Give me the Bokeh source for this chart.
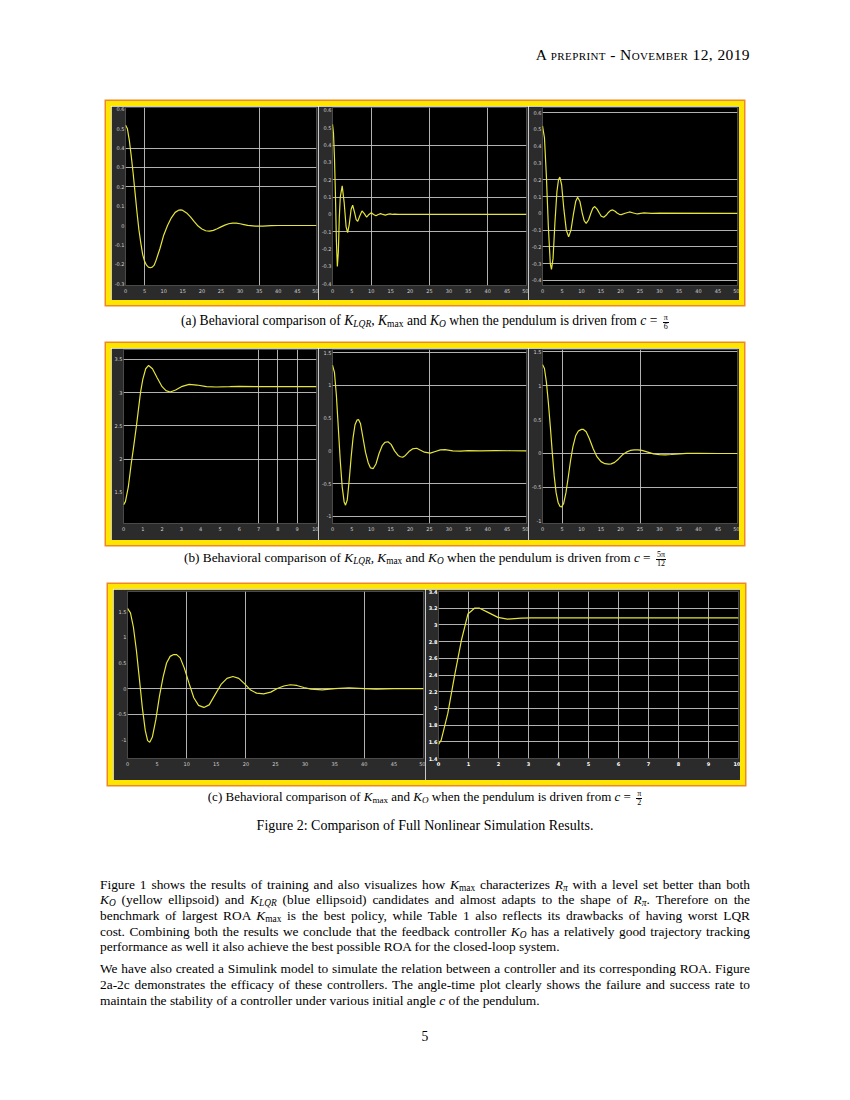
from bokeh.plotting import figure
from bokeh.layouts import row, column
from bokeh.models import Range1d, FixedTicker, Div, Spacer
from bokeh.embed import file_html
from bokeh.resources import INLINE

# ---------------- data ----------------
# (a) c = pi/6
a1_t = [0, 0.5, 1, 1.5, 2, 2.5, 3, 3.5, 4, 4.5, 5, 5.5, 6, 6.5, 7, 7.5, 8, 8.5, 9, 9.5, 10, 11, 12, 13, 14, 14.5,
        15, 16, 17, 18, 19, 20, 21, 22, 23, 24, 25, 26, 27, 28, 29, 30, 31, 32, 34, 36, 38, 40, 45, 50]
a1_y = [0.52, 0.50, 0.44, 0.36, 0.27, 0.17, 0.07, -0.02, -0.09, -0.15, -0.185, -0.205, -0.215, -0.218, -0.215,
        -0.205, -0.18, -0.15, -0.12, -0.085, -0.05, 0.00, 0.04, 0.068, 0.08, 0.081, 0.078, 0.065, 0.045, 0.02,
        -0.003, -0.018, -0.027, -0.029, -0.025, -0.017, -0.007, 0.002, 0.009, 0.012, 0.012, 0.009, 0.005, 0.001,
        -0.003, -0.003, -0.001, 0.0, 0.0, 0.0]
a2_t = [0, 0.25, 0.5, 0.75, 1.0, 1.25, 1.5, 1.75, 2.0, 2.5, 3.0, 3.5, 3.9, 4.3, 4.8, 5.2, 5.7, 6.1, 6.5, 7.0, 7.6,
        8.2, 8.8, 9.4, 10.0, 10.6, 11.2, 11.8, 12.4, 13.0, 13.6, 14.2, 14.8, 15.4, 16, 17, 50]
a2_y = [0.52, 0.47, 0.33, 0.12, -0.15, -0.30, -0.22, -0.02, 0.10, 0.165, 0.07, -0.07, -0.105, -0.06, 0.03, 0.053,
        0.01, -0.03, -0.04, -0.01, 0.02, 0.005, -0.016, 0.0, 0.01, 0.0, -0.008, 0.0, 0.005, 0.0, -0.004, 0.0,
        0.003, 0.0, 0.002, 0.0, 0.0]
a3_t = [0, 0.5, 1.0, 1.5, 2.0, 2.3, 2.7, 3.2, 3.7, 4.1, 4.45, 4.9, 5.5, 6.1, 6.7, 7.3, 7.9, 8.5, 9.0, 9.6, 10.2,
        10.7, 11.2, 11.8, 12.4, 12.9, 13.4, 14.0, 14.6, 15.1, 15.7, 16.3, 16.9, 17.4, 18.0, 18.6, 19.2, 19.7,
        20.2, 21.2, 22.3, 23.3, 24.3, 26, 28, 30, 50]
a3_y = [0.52, 0.45, 0.22, -0.08, -0.30, -0.334, -0.27, -0.05, 0.13, 0.20, 0.216, 0.17, 0.02, -0.10, -0.14, -0.10,
        -0.01, 0.07, 0.096, 0.07, 0.0, -0.045, -0.06, -0.04, 0.0, 0.03, 0.04, 0.025, 0.0, -0.018, -0.024, -0.012,
        0.005, 0.016, 0.02, 0.012, 0.0, -0.006, -0.008, 0.0, 0.008, 0.002, -0.004, 0.002, -0.001, 0.001, 0.0]

# (b) c = 5pi/12
b1_t = [0, 0.1, 0.25, 0.4, 0.5, 0.67, 0.88, 1.0, 1.15, 1.3, 1.5, 1.75, 2.0, 2.2, 2.42, 2.7, 3.0, 3.4, 3.8, 4.3,
        4.8, 5.5, 6, 7, 10]
b1_y = [1.31, 1.36, 1.58, 1.93, 2.13, 2.5, 3.0, 3.2, 3.36, 3.41, 3.36, 3.22, 3.09, 3.03, 3.01, 3.04, 3.09, 3.125,
        3.115, 3.09, 3.085, 3.09, 3.095, 3.09, 3.09]
b2_t = [0, 0.5, 1.0, 1.5, 2.0, 2.5, 3.0, 3.36, 3.8, 4.3, 4.8, 5.3, 5.8, 6.3, 6.7, 7.2, 7.8, 8.5, 9.2, 9.8, 10.5,
        11.2, 12.0, 12.8, 13.5, 14.3, 15.1, 16.0, 16.9, 17.5, 18.1, 18.8, 19.7, 20.6, 21.7, 22.7, 23.7, 25.2,
        26.5, 27.8, 29, 31, 33, 35, 38, 42, 46, 50]
b2_y = [1.31, 1.2, 0.85, 0.35, -0.15, -0.55, -0.78, -0.83, -0.75, -0.45, -0.1, 0.2, 0.4, 0.47, 0.48, 0.42, 0.22,
        -0.02, -0.18, -0.26, -0.27, -0.2, -0.04, 0.08, 0.13, 0.14, 0.1, 0.0, -0.07, -0.09, -0.096, -0.07, -0.01,
        0.03, 0.04, 0.01, -0.02, -0.035, -0.01, 0.015, 0.02, 0.0, -0.005, 0.005, 0.0, 0.005, 0.002, 0.0]
b3_t = [0, 0.5, 1.0, 1.5, 2.0, 2.5, 3.0, 3.5, 4.0, 4.5, 4.9, 5.4, 6.0, 6.6, 7.2, 7.8, 8.5, 9.2, 10.0, 10.5, 11.2,
        12.0, 13.0, 14.0, 15.0, 16.0, 17.0, 17.6, 18.5, 19.5, 20.5, 21.5, 22.5, 23.5, 24.5, 25.5, 27, 28.5, 30,
        31.5, 33, 35, 37, 40, 45, 50]
b3_y = [1.31, 1.25, 1.05, 0.75, 0.4, 0.02, -0.33, -0.58, -0.72, -0.78, -0.785, -0.74, -0.58, -0.35, -0.1, 0.1,
        0.26, 0.33, 0.355, 0.354, 0.32, 0.22, 0.07, -0.05, -0.12, -0.15, -0.155, -0.153, -0.13, -0.08, -0.02,
        0.02, 0.045, 0.053, 0.053, 0.045, 0.02, -0.005, -0.018, -0.02, -0.015, -0.005, 0.002, 0.003, 0.0, 0.0]

# (c) c = pi/2
c1_t = [0, 0.5, 1.0, 1.5, 2.0, 2.5, 3.0, 3.4, 3.76, 4.2, 4.8, 5.4, 6.0, 6.6, 7.2, 7.8, 8.3, 8.9, 9.6, 10.4, 11.2,
        12.0, 12.9, 13.8, 14.8, 15.8, 16.8, 17.8, 18.8, 19.8, 20.8, 21.8, 23.0, 24.2, 25.3, 26.4, 27.5, 28.6,
        29.8, 31.0, 32.9, 35.0, 37.4, 40, 42, 45, 50]
c1_y = [1.57, 1.48, 1.2, 0.75, 0.2, -0.37, -0.82, -1.02, -1.05, -0.95, -0.6, -0.15, 0.22, 0.5, 0.63, 0.665,
        0.665, 0.6, 0.4, 0.1, -0.18, -0.33, -0.37, -0.32, -0.12, 0.08, 0.2, 0.235, 0.2, 0.09, -0.03, -0.09,
        -0.105, -0.07, 0.0, 0.05, 0.074, 0.06, 0.02, -0.01, -0.025, 0.0, 0.015, 0.0, -0.01, 0.0, 0.0]
c2_t = [0, 0.09, 0.31, 0.53, 0.76, 0.98, 1.2, 1.37, 1.65, 1.98, 2.3, 2.76, 3.1, 4, 6, 8, 10]
c2_y = [1.57, 1.62, 1.94, 2.38, 2.81, 3.13, 3.2, 3.2, 3.15, 3.09, 3.07, 3.08, 3.085, 3.085, 3.085, 3.085, 3.085]

# tick labels
ticks_50 = [0, 5, 10, 15, 20, 25, 30, 35, 40, 45, 50]
ticks_10 = [0, 1, 2, 3, 4, 5, 6, 7, 8, 9, 10]
a1_yticks = [-0.3, -0.2, -0.1, 0, 0.1, 0.2, 0.3, 0.4, 0.5, 0.6]
a_yticks = [-0.4, -0.3, -0.2, -0.1, 0, 0.1, 0.2, 0.3, 0.4, 0.5, 0.6]
b1_yticks = [1.5, 2, 2.5, 3, 3.5]
b_yticks = [-1, -0.5, 0, 0.5, 1, 1.5]
c2_yticks = [1.4, 1.6, 1.8, 2, 2.2, 2.4, 2.6, 2.8, 3, 3.2, 3.4]

CURVE = "#e4e43a"
FRAME = "#2b2b2b"
GRID = "#c4c4c4"


def panel(t, y, w, h, xr, yr, xt, yt, gx, gy, bl, bt, bb, br=2):
    p = figure(width=w, height=h, x_range=Range1d(*xr), y_range=Range1d(*yr),
               output_backend="svg", toolbar_location=None,
               min_border_left=bl, min_border_right=br, min_border_top=bt, min_border_bottom=bb,
               background_fill_color="#000000", border_fill_color=FRAME, outline_line_color=None)
    p.line(t, y, line_color=CURVE, line_width=1.2)
    p.xaxis.ticker = FixedTicker(ticks=xt)
    p.yaxis.ticker = FixedTicker(ticks=yt)
    p.xaxis.major_label_overrides = {float(v): f"{v:g}" for v in xt}
    p.yaxis.major_label_overrides = {float(v): f"{v:g}" for v in yt}
    p.xaxis.major_label_standoff = 3
    p.yaxis.major_label_standoff = 1
    p.axis.major_label_text_font = "DejaVu Sans"
    p.axis.major_label_text_font_size = "5px"
    p.axis.major_label_text_color = "#d0d0d0"
    p.axis.axis_line_color = None
    p.axis.major_tick_line_color = None
    p.axis.minor_tick_line_color = None
    p.axis.major_tick_out = 0
    p.axis.major_tick_in = 0
    p.xgrid.ticker = FixedTicker(ticks=gx)
    p.ygrid.ticker = FixedTicker(ticks=gy)
    p.grid.grid_line_color = GRID
    p.grid.grid_line_width = 1
    p.grid.grid_line_alpha = 0.9
    return p


FRAME_STYLE = {"box-shadow": "0 0 0 5px #ffe600, 0 0 0 6.5px #f0862a"}

pa1 = panel(a1_t, a1_y, 207, 194, (0, 50), (-0.31, 0.61), ticks_50, a1_yticks, [5, 35], [0.2, 0.3, 0.4], 6, 1, 15)
pa2 = panel(a2_t, a2_y, 210, 194, (0, 50), (-0.41, 0.617), ticks_50, a_yticks, [10, 25, 40], [0.4, 0.2, 0.1, -0.1], 6, 1, 15)
pa3 = panel(a3_t, a3_y, 211, 194, (0, 50), (-0.43, 0.63), ticks_50, a_yticks, [], [0.6, 0.2, 0.1, -0.1, -0.2, -0.3, -0.4], 6, 1, 15)
grp_a = row([pa1, pa2, pa3], styles=FRAME_STYLE)

pb1 = panel(b1_t, b1_y, 207, 192, (0, 10), (1.03, 3.65), ticks_10, b1_yticks, [7, 8, 9], [3.5, 3, 2.5, 2], 6, 1, 17)
pb2 = panel(b2_t, b2_y, 210, 192, (0, 50), (-1.11, 1.55), ticks_50, b_yticks, [25], [1.5, 1, -0.5, -1], 6, 1, 17)
pb3 = panel(b3_t, b3_y, 211, 192, (0, 50), (-1.03, 1.53), ticks_50, b_yticks, [5, 25], [1.5, 1, 0, -0.5], 6, 1, 17)
grp_b = row([pb1, pb2, pb3], styles=FRAME_STYLE)

pc1 = panel(c1_t, c1_y, 312, 191, (0, 50), (-1.37, 1.9), ticks_50, b_yticks, [10, 20, 40], [0, -0.5], 10, 1, 13)
pc2 = panel(c2_t, c2_y, 315, 191, (0, 10), (1.4, 3.4), ticks_10, c2_yticks, [1, 2, 3, 4, 5, 6, 7, 8, 9],
            [1.6, 1.8, 2, 2.2, 2.4, 2.6, 2.8, 3, 3.2], 10, 2, 22)
pc2.axis.major_label_text_font_style = "bold"
pc2.axis.major_label_text_color = "#ffffff"
grp_c = row([pc1, pc2], styles=FRAME_STYLE)

# ---------------- text ----------------
SERIF = "'Liberation Serif', 'Times New Roman', serif"


def sub(s, it=True):
    inner = f"<i>{s}</i>" if it else s
    return f'<sub style="font-size:0.7em;vertical-align:-0.25em">{inner}</sub>'


KLQR = "<i>K</i>" + sub("LQR")
KMAX = "<i>K</i>" + sub("max", False)
KO = "<i>K</i>" + sub("O")
RPI = "<i>R</i>" + sub("π")


def frac(n, d):
    return ('<span style="display:inline-block;vertical-align:-0.55em;text-align:center;font-size:8px;'
            'line-height:8px;margin-left:2px">'
            f'<span style="display:block;border-bottom:0.7px solid #000;padding:0 1px">{n}</span>'
            f'<span style="display:block">{d}</span></span>')


def line(y, html, size, x=0, w=850, align="center", lh=18, extra=""):
    return (f'<div style="position:absolute;left:{x}px;top:{y - lh / 2}px;width:{w}px;height:{lh}px;'
            f'line-height:{lh}px;font-size:{size}px;text-align:{align};white-space:nowrap;{extra}">{html}</div>')


def block(h, parts):
    return Div(text=f'<div style="position:relative;width:850px;height:{h}px;font-family:{SERIF};color:#000">'
                    + "".join(parts) + "</div>",
               width=850, height=h, margin=(0, 0, 0, 0))


header = block(106, [line(55, "A preprint - November 12, 2019", 15.5, x=0, w=750, align="right",
                          extra="font-variant:small-caps;letter-spacing:0.4px")])

cap_a = block(48, [line(21, f"(a) Behavioral comparison of {KLQR}, {KMAX} and {KO} when the pendulum is driven "
                            f"from <i>c</i> = {frac('π', '6')}", 13.6)])
cap_b = block(49, [line(18, f"(b) Behavioral comparison of {KLQR}, {KMAX} and {KO} when the pendulum is driven "
                            f"from <i>c</i> = {frac('5π', '12')}", 13.3)])

J = "text-align:justify;text-align-last:justify;white-space:normal"
body_x = 100
body_w = 650
p1 = [
    f"Figure 1 shows the results of training and also visualizes how {KMAX} characterizes {RPI} with a level set better than both",
    f"{KO} (yellow ellipsoid) and {KLQR} (blue ellipsoid) candidates and almost adapts to the shape of {RPI}. Therefore on the",
    f"benchmark of largest ROA {KMAX} is the best policy, while Table 1 also reflects its drawbacks of having worst LQR",
    f"cost. Combining both the results we conclude that the feedback controller {KO} has a relatively good trajectory tracking",
    "performance as well it also achieve the best possible ROA for the closed-loop system.",
]
p2 = [
    "We have also created a Simulink model to simulate the relation between a controller and its corresponding ROA. Figure",
    "2a-2c demonstrates the efficacy of these controllers. The angle-time plot clearly shows the failure and success rate to",
    "maintain the stability of a controller under various initial angle <i>c</i> of the pendulum.",
]
p1_y = [884, 899.7, 915.4, 931.1, 946.8]
p2_y = [968.5, 984.2, 1000]

rest_parts = [
    line(797 - 780, f"(c) Behavioral comparison of {KMAX} and {KO} when the pendulum is driven from "
                    f"<i>c</i> = {frac('π', '2')}", 13.0),
    line(826 - 780, "Figure 2: Comparison of Full Nonlinear Simulation Results.", 14),
]
for i, (txt, yy) in enumerate(zip(p1, p1_y)):
    ex = J if i < len(p1) - 1 else ""
    rest_parts.append(line(yy - 780, txt, 13.4, x=body_x, w=body_w, align="left", lh=17, extra=ex))
for i, (txt, yy) in enumerate(zip(p2, p2_y)):
    ex = J if i < len(p2) - 1 else ""
    rest_parts.append(line(yy - 780, txt, 13.4, x=body_x, w=body_w, align="left", lh=17, extra=ex))
rest_parts.append(line(1037 - 780, "5", 13.6))
rest = block(1090 - 780, rest_parts)

page = column([
    header,
    row([Spacer(width=111, height=10), grp_a]),
    cap_a,
    row([Spacer(width=111, height=10), grp_b]),
    cap_b,
    row([Spacer(width=113, height=10), grp_c]),
    rest,
])

open("out.html", "w").write(file_html(page, INLINE, title="Figure 2"))
